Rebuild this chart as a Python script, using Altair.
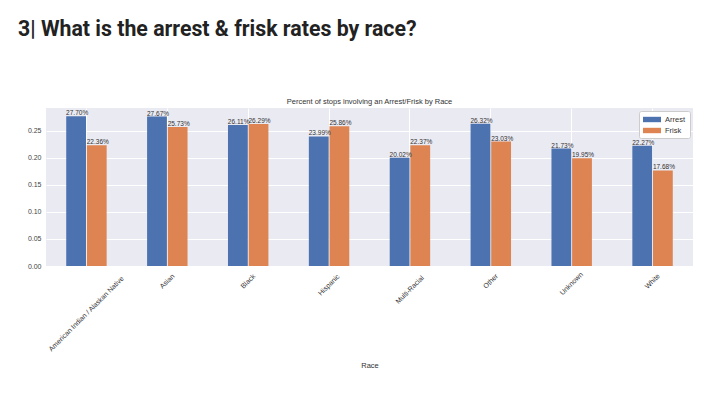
import altair as alt
import pandas as pd

header = "3| What is the arrest & frisk rates by race?"
chart_title = "Percent of stops involving an Arrest/Frisk by Race"
races = ["American Indian / Alaskan Native", "Asian", "Black", "Hispanic",
         "Multi-Racial", "Other", "Unknown", "White"]
series = ["Arrest", "Frisk"]
arrest = [0.2770, 0.2767, 0.2611, 0.2399, 0.2002, 0.2632, 0.2173, 0.2227]
frisk = [0.2236, 0.2573, 0.2629, 0.2586, 0.2237, 0.2303, 0.1995, 0.1768]
yticks = [0.0, 0.05, 0.10, 0.15, 0.20, 0.25]
colors = ["#4C72B0", "#DD8452"]

W, H = 647, 158
FONT = "Liberation Sans"
TXT = "#333333"

rows = []
for i, r in enumerate(races):
    rows.append({"Race": r, "Series": "Arrest", "value": arrest[i]})
    rows.append({"Race": r, "Series": "Frisk", "value": frisk[i]})
df = pd.DataFrame(rows)
labels_df = pd.DataFrame({"Race": races})
title_df = pd.DataFrame({"t": [chart_title]})

x_axis = alt.Axis(title="Race", labels=False, ticks=False, domain=False, grid=True,
                  gridColor="white", gridWidth=1, bandPosition=0.5,
                  titlePadding=95, titleFont=FONT, titleFontSize=7.5,
                  titleFontWeight="normal", titleColor=TXT)
x_scale = alt.Scale(paddingInner=0.5, paddingOuter=0.25)
X = alt.X("Race:N", sort=races, scale=x_scale, axis=x_axis)
Y = alt.Y("value:Q", scale=alt.Scale(domain=[0, 0.2925], nice=False, zero=True),
          axis=alt.Axis(values=yticks, format=".2f", title=None, grid=True,
                        gridColor="white", gridWidth=1, ticks=False, domain=False,
                        labelFont=FONT, labelFontSize=7, labelColor="#444444",
                        labelPadding=5))
XO = alt.XOffset("Series:N", sort=series, scale=alt.Scale(paddingInner=0.04))

bars = alt.Chart(df).mark_bar().encode(
    x=X, y=Y, xOffset=XO,
    color=alt.Color("Series:N", sort=series,
                    scale=alt.Scale(domain=series, range=colors),
                    legend=alt.Legend(title=None, orient="top-right", offset=3,
                                      fillColor="white", strokeColor="#cccccc",
                                      padding=4, cornerRadius=2,
                                      symbolType="M-1,-0.6L3,-0.6L3,0.6L-1,0.6Z",
                                      symbolSize=81, symbolStrokeWidth=0,
                                      labelFont=FONT, labelFontSize=7.5,
                                      labelColor=TXT, rowPadding=3, labelOffset=13)),
)

bar_text = alt.Chart(df).mark_text(
    align="left", baseline="alphabetic", dx=-10, dy=-1,
    font=FONT, fontSize=6.5, color=TXT
).encode(x=X, y=Y, xOffset=XO, text=alt.Text("value:Q", format=".2%"))

xlabels = alt.Chart(labels_df).transform_calculate(
    ly=f"{H} + 7 + (length(datum.Race) * 3.4 + 7) * 0.3536"
).mark_text(
    angle=315, align="center", baseline="middle", font=FONT, fontSize=7, color=TXT
).encode(x=X, y=alt.Y("ly:Q", scale=None, axis=None), text="Race:N")

inner_title = alt.Chart(title_df).mark_text(
    align="center", baseline="alphabetic", font=FONT, fontSize=7.5, color=TXT
).encode(x=alt.value(W / 2), y=alt.value(-4), text="t:N")

chart = alt.layer(bars, bar_text, xlabels, inner_title).properties(
    width=W, height=H,
    background="white",
    title=alt.TitleParams(header, font="Roboto", fontSize=21.3, fontWeight="bold",
                          color="#222222", anchor="start", frame="group",
                          dx=-28, offset=58),
    autosize=alt.AutoSizeParams(type="none"),
    padding={"left": 38, "top": 100, "right": 18, "bottom": 110},
).configure_view(fill="#EAEAF2", stroke=None)

chart.save("out.html", embed_options={"renderer": "svg", "actions": False})
